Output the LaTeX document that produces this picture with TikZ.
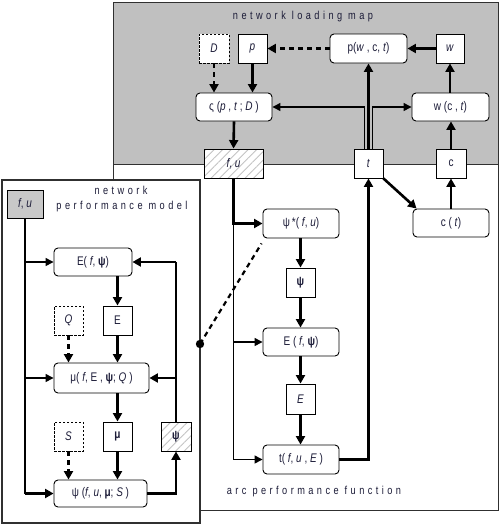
\documentclass[tikz,border=0pt]{standalone}
\usepackage{fontspec}
\setmainfont{Liberation Sans}[FakeStretch=0.8]
\newfontfamily\spaced{Liberation Sans}[FakeStretch=0.8,LetterSpace=30]
\usetikzlibrary{arrows.meta,patterns.meta}
\definecolor{panelgray}{HTML}{C0C0C0}
\definecolor{boxgray}{HTML}{C8C8C8}
\definecolor{hatchgray}{HTML}{C4C4C4}
\definecolor{txt}{HTML}{1C1C38}
\definecolor{frame}{HTML}{303030}
\tikzset{
  lbl/.style={font=\fontsize{12.5}{13}\selectfont, text=txt, inner sep=0pt},
  ttl/.style={font=\spaced\fontsize{11.5}{12}\selectfont, text=txt, inner sep=0pt},
  box/.style={draw=black, line width=0.9pt, fill=white, inner sep=0pt, lbl},
  rbox/.style={box, rounded corners=4pt},
  dbox/.style={box, dash pattern=on 2.5pt off 1.5pt},
  hbox/.style={draw=black, line width=0.9pt, inner sep=0pt, lbl, preaction={fill=white},
    pattern={Lines[angle=45,distance=6pt,line width=0.9pt]}, pattern color=hatchgray},
  gbox/.style={box, fill=boxgray},
  thk/.style={line width=2.6pt, -{Triangle[length=8.5pt,width=9pt]}},
  thkl/.style={line width=2.6pt},
  thn/.style={line width=1.3pt, -{Triangle[length=8pt,width=8pt]}},
  thnl/.style={line width=1.3pt},
  mid/.style={line width=1.8pt},
  dsh/.style={line width=2.4pt, dash pattern=on 5pt off 4pt, -{Triangle[length=8.5pt,width=9pt]}},
  dshl/.style={line width=2.2pt, dash pattern=on 5pt off 4pt},
}
\begin{document}
\begin{tikzpicture}[x=1pt,y=-1pt]
\useasboundingbox (0,0) rectangle (500,525);
% panels
\draw[frame, line width=1pt, fill=white] (113.5,2) rectangle (498.5,510);
\draw[frame, line width=1pt, fill=panelgray] (113.5,2) rectangle (498.5,164);
\draw[frame, line width=1.2pt, fill=white] (2,180) rectangle (200,523);
% titles
\node[ttl] (tmap) at (303,17) {network loading map};
\node[ttl] (tnet1) at (121,190) {network};
\node[ttl] (tnet2) at (122,207) {performance model};
\node[ttl] (tarc) at (314,492) {arc performance function};
% right panel nodes
\node[dbox, minimum width=30pt, minimum height=29pt] (D) at (214,48.5) {\textit{D}};
\node[box, minimum width=29pt, minimum height=29pt] (p) at (252.5,48.5) {\textit{p}};
\node[rbox, minimum width=77pt, minimum height=29pt] (pwct) at (368.5,48.5) {p(\textit{w} , c, \textit{t})};
\node[box, minimum width=28pt, minimum height=29pt] (w) at (450,48.5) {\textit{w}};
\node[rbox, minimum width=76pt, minimum height=28pt] (sig) at (234,107) {ς (\textit{p} , \textit{t} ; \textit{D} )};
\node[rbox, minimum width=77pt, minimum height=28pt] (wct) at (450.5,107) {w (c , \textit{t})};
\node[hbox, minimum width=59pt, minimum height=29pt] (fu1) at (233.5,163.5) {\textit{f}, \textit{u}};
\node[box, minimum width=29pt, minimum height=29pt] (tb) at (368.5,163.5) {\textit{t}};
\node[box, minimum width=30pt, minimum height=29pt] (cb) at (451,163.5) {c};
\node[rbox, minimum width=76pt, minimum height=28pt] (ct) at (451,223) {c ( \textit{t})};
\node[rbox, minimum width=76pt, minimum height=29pt] (psis) at (301,223.5) {ψ\,*( \textit{f}, \textit{u})};
\node[box, minimum width=29pt, minimum height=29pt] (psib) at (300.5,282.5) {\textbf{ψ}};
\node[rbox, minimum width=76pt, minimum height=28pt] (Ef1) at (301,342) {E ( \textit{f}, \textbf{ψ})};
\node[box, minimum width=29pt, minimum height=30pt] (Eb1) at (300.5,399) {\textit{E}};
\node[rbox, minimum width=76pt, minimum height=29pt] (tfu) at (301,459.5) {t( \textit{f}, \textit{u} , \textit{E} )};
% left panel nodes
\node[gbox, minimum width=36pt, minimum height=28pt] (fu2) at (25,204) {\textit{f}, \textit{u}};
\node[rbox, minimum width=78pt, minimum height=28pt] (Ef2) at (93,262) {E( \textit{f}, \textbf{ψ})};
\node[dbox, minimum width=29pt, minimum height=29pt] (Q) at (68.5,320.5) {\textit{Q}};
\node[box, minimum width=29pt, minimum height=29pt] (Eb2) at (117.5,320.5) {E};
\node[rbox, minimum width=95pt, minimum height=30pt] (mu) at (101.5,378) {μ( \textit{f}, E , \textbf{ψ}; \textit{Q} )};
\node[dbox, minimum width=29pt, minimum height=29pt] (S) at (68.5,436.5) {\textit{S}};
\node[box, minimum width=29pt, minimum height=29pt] (mub) at (117.5,436.5) {\textbf{μ}};
\node[hbox, minimum width=30pt, minimum height=29pt] (psih) at (176,436.5) {\textbf{ψ}};
\node[rbox, minimum width=93pt, minimum height=27pt] (psif) at (100.5,493.5) {ψ (\textit{f}, \textit{u}, \textbf{μ}; \textit{S} )};
% right panel connectors
\draw[thk] (w.west) -- (pwct.east);
\draw[dsh] (pwct.west) -- (p.east);
\draw[dsh] (D.south) -- (D.south |- sig.north);
\draw[thk] (p.south) -- (p.south |- sig.north);
\draw[thk] (sig.south) -- (fu1.north);
\draw[thk] (tb.north) -- (pwct.south);
\draw[thn] ([xshift=-4pt]tb.north) |- (sig.east);
\draw[thn] ([xshift=4pt]tb.north) |- (wct.west);
\draw[thk] (cb.north) -- (cb.north |- wct.south);
\draw[thk] (w.south |- wct.north) -- (w.south);
\draw[thk] (ct.north -| cb.south) -- (cb.south);
\draw[thk] (tb.south east) -- ([xshift=4pt]ct.north west);
\draw[thk] (fu1.south) |- (psis.west);
\draw[thnl] (fu1.south |- psis.west) -- (fu1.south |- tfu.west);
\draw[thn] (fu1.south |- Ef1.west) -- (Ef1.west);
\draw[thn] (fu1.south |- tfu.west) -- (tfu.west);
\draw[thk] (psis.south -| psib.north) -- (psib.north);
\draw[thk] (psib.south) -- (psib.south |- Ef1.north);
\draw[thk] (Ef1.south -| Eb1.north) -- (Eb1.north);
\draw[thk] (Eb1.south) -- (Eb1.south |- tfu.north);
\draw[thk] (tfu.east) -| (tb.south);
\coordinate (dot) at (200,344);
\draw[dshl] (dot) -- ([shift={(-1pt,-5pt)}]psis.south west);
\fill[black] (dot) circle (4.2pt);
% left panel connectors
\draw[thnl] (fu2.south) -- (fu2.south |- psif.west);
\draw[thn] (fu2.south |- Ef2.west) -- (Ef2.west);
\draw[thn] (fu2.south |- mu.west) -- (mu.west);
\draw[thk] (fu2.south |- psif.west) -- (psif.west);
\draw[thk] (Eb2.north |- Ef2.south) -- (Eb2.north);
\draw[thk] (Eb2.south) -- (Eb2.south |- mu.north);
\draw[dsh] (Q.south) -- (Q.south |- mu.north);
\draw[thk] (mub.north |- mu.south) -- (mub.north);
\draw[thk] (mub.south) -- (mub.south |- psif.north);
\draw[dsh] (S.south) -- (S.south |- psif.north);
\draw[thk] (psif.east) -| (psih.south);
\draw[mid] (psih.north) -- (psih.north |- Ef2.east);
\draw[thk] (psih.north |- Ef2.east) -- (Ef2.east);
\draw[thk] (psih.north |- mu.east) -- (mu.east);
\end{tikzpicture}
\end{document}
